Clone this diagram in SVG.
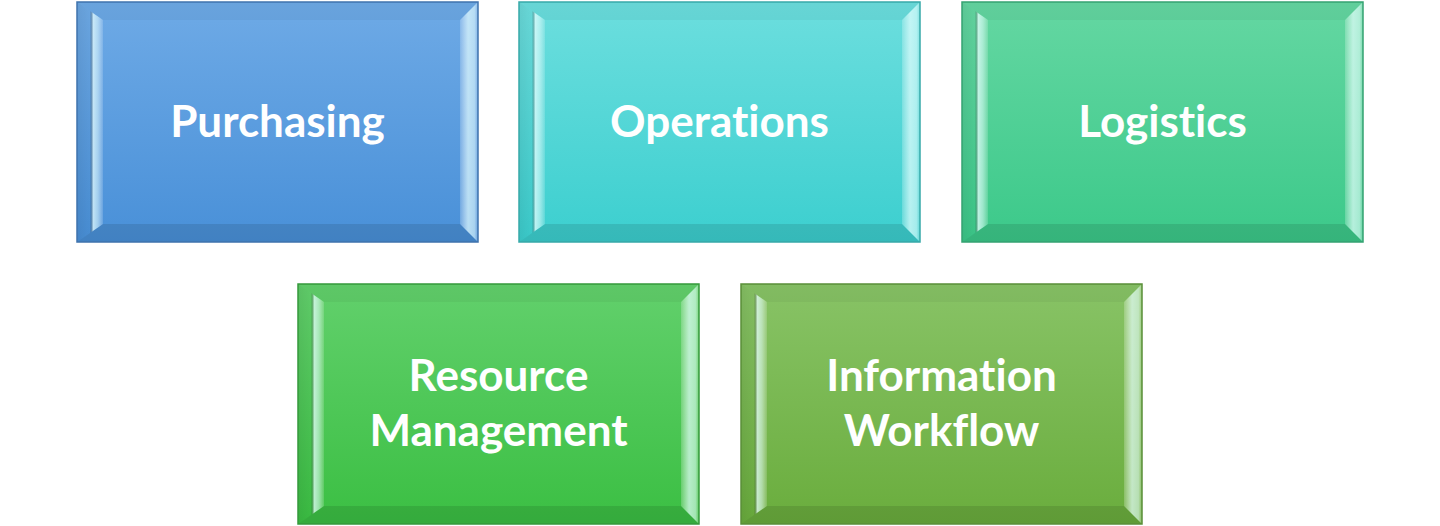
<svg xmlns="http://www.w3.org/2000/svg" xmlns:xlink="http://www.w3.org/1999/xlink" width="1440" height="526" viewBox="0 0 1440 526">
<defs>
<style>
.lbl{font-family:Lato,"Open Sans","Liberation Sans",sans-serif;font-weight:bold;font-size:44px;fill:#ffffff;text-anchor:middle;font-variant-ligatures:none;font-feature-settings:"liga" 0,"dlig" 0}
.bd{stroke-width:1.5}
</style>
<linearGradient id="gBlue" x1="0" y1="0" x2="0" y2="1"><stop offset="0" stop-color="#6eaae6"/><stop offset="1" stop-color="#4990d8"/></linearGradient>
<linearGradient id="gCyan" x1="0" y1="0" x2="0" y2="1"><stop offset="0" stop-color="#6cdede"/><stop offset="1" stop-color="#3ccfcf"/></linearGradient>
<linearGradient id="gTeal" x1="0" y1="0" x2="0" y2="1"><stop offset="0" stop-color="#64d7a2"/><stop offset="1" stop-color="#3cc98a"/></linearGradient>
<linearGradient id="gGreen" x1="0" y1="0" x2="0" y2="1"><stop offset="0" stop-color="#62d06c"/><stop offset="1" stop-color="#3bbf43"/></linearGradient>
<linearGradient id="gOlive" x1="0" y1="0" x2="0" y2="1"><stop offset="0" stop-color="#88c366"/><stop offset="1" stop-color="#6aad3d"/></linearGradient>
<linearGradient id="bvL" x1="0" y1="0" x2="1" y2="0"><stop offset="0" stop-color="#000" stop-opacity="0.08"/><stop offset="0.5" stop-color="#000" stop-opacity="0.03"/><stop offset="0.62" stop-color="#e8ffff" stop-opacity="0.75"/><stop offset="0.8" stop-color="#e8ffff" stop-opacity="0.55"/><stop offset="1" stop-color="#fff" stop-opacity="0.15"/></linearGradient>
<linearGradient id="bvR" x1="0" y1="0" x2="1" y2="0"><stop offset="0" stop-color="#fff" stop-opacity="0.2"/><stop offset="0.45" stop-color="#e8ffff" stop-opacity="0.7"/><stop offset="0.8" stop-color="#e8ffff" stop-opacity="0.6"/><stop offset="1" stop-color="#fff" stop-opacity="0.15"/></linearGradient>
<g id="bevel">
<polygon points="0,0 401,0 383,18 26,18" fill="#000" fill-opacity="0.04"/>
<polygon points="0,240 26,222 383,222 401,240" fill="#000" fill-opacity="0.1"/>
<polygon points="0,0 26,18 26,222 0,240" fill="url(#bvL)"/>
<polygon points="401,0 401,240 383,222 383,18" fill="url(#bvR)"/>
</g>
</defs>
<rect width="1440" height="526" fill="#ffffff"/>
<g id="connectors"/>
<g id="node-purchasing" transform="translate(77,2)">
<rect width="401" height="240" fill="url(#gBlue)"/>
<use xlink:href="#bevel"/>
<rect width="401" height="240" fill="none" stroke="#3f73ad" class="bd"/>
<text class="lbl" x="200.5" y="135">Purchasing</text>
</g>
<g id="node-operations" transform="translate(519,2)">
<rect width="401" height="240" fill="url(#gCyan)"/>
<use xlink:href="#bevel"/>
<rect width="401" height="240" fill="none" stroke="#37a9a9" class="bd"/>
<text class="lbl" x="200.5" y="135">Operations</text>
</g>
<g id="node-logistics" transform="translate(962,2)">
<rect width="401" height="240" fill="url(#gTeal)"/>
<use xlink:href="#bevel"/>
<rect width="401" height="240" fill="none" stroke="#35a272" class="bd"/>
<text class="lbl" x="200.5" y="135">Logistics</text>
</g>
<g id="node-resource" transform="translate(298,284)">
<rect width="401" height="240" fill="url(#gGreen)"/>
<use xlink:href="#bevel"/>
<rect width="401" height="240" fill="none" stroke="#35993b" class="bd"/>
<text class="lbl" x="200.5" y="107">Resource</text>
<text class="lbl" x="200.5" y="162">Management</text>
</g>
<g id="node-information" transform="translate(741,284)">
<rect width="401" height="240" fill="url(#gOlive)"/>
<use xlink:href="#bevel"/>
<rect width="401" height="240" fill="none" stroke="#5a8f38" class="bd"/>
<text class="lbl" x="200.5" y="107">Information</text>
<text class="lbl" x="200.5" y="162">Workflow</text>
</g>
</svg>
